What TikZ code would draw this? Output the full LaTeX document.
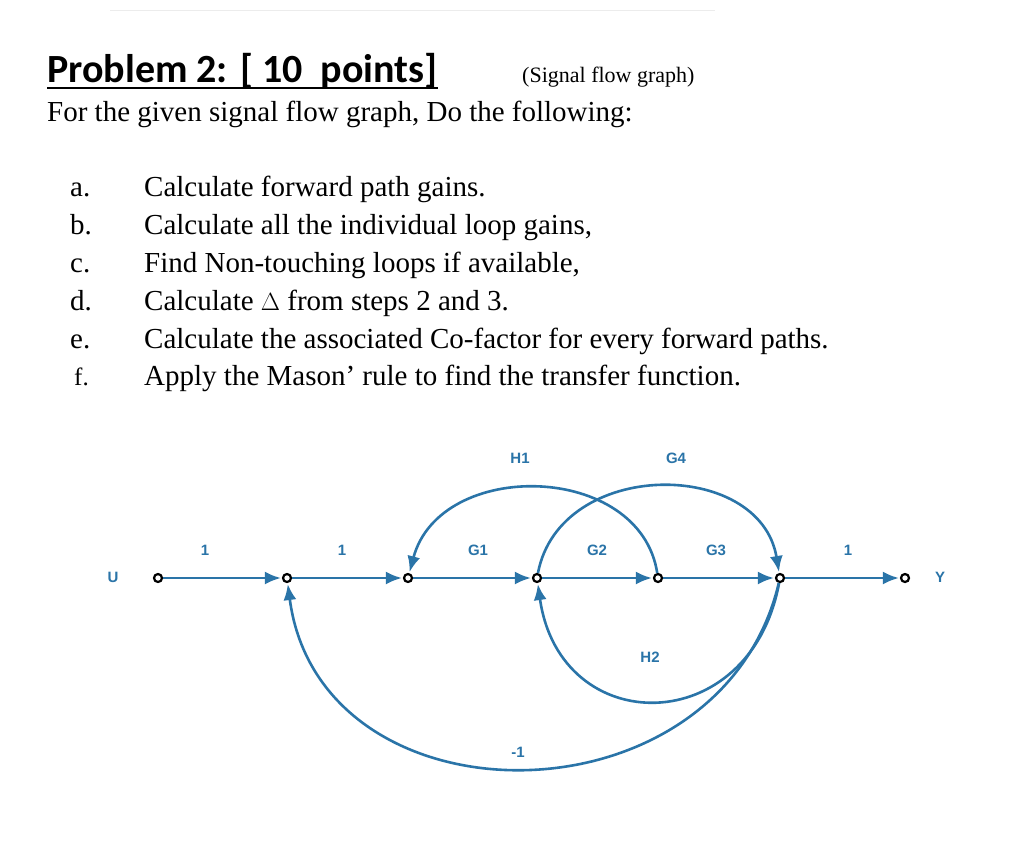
\documentclass[tikz,border=0pt]{standalone}
\usepackage{fontspec}
\setmainfont{Liberation Serif}
\newfontfamily\calfnt{Carlito}
\newfontfamily\lsans{Liberation Sans}
\usetikzlibrary{arrows.meta}
\definecolor{sfg}{HTML}{2A74A8}
\tikzset{
 pt/.style={circle,draw=black,line width=2.2pt,fill=white,inner sep=0pt,minimum size=8pt},
 br/.style={sfg,line width=2.6pt,-{Latex[length=16pt,width=13pt]},shorten >=1pt},
 lab/.style={sfg,font=\lsans\bfseries\fontsize{15}{18}\selectfont},
 body/.style={anchor=base west,font=\fontsize{29}{34}\selectfont,inner sep=0pt}
}
\begin{document}
\begin{tikzpicture}[x=1pt,y=-1pt]
\useasboundingbox (0,0) rectangle (1024,849);
\fill[white] (0,0) rectangle (1024,849);
\draw[gray!15,line width=0.5pt] (110,10) -- (715,10);
\node[anchor=base west,inner sep=0pt,font=\calfnt\bfseries\fontsize{40}{46}\selectfont] (title) at (47,82) {Problem 2: [ 10\ \ points]};
\draw[line width=1.6pt] (47,88) -- (title.east |- 0,88);
\node[anchor=base west,inner sep=0pt,font=\fontsize{22}{26}\selectfont] (sub) at (522,82) {(Signal flow graph)};
\node[body] (intro) at (47,121) {For the given signal flow graph, Do the following:};
\node[body] (la) at (70,196) {a.};
\node[body] (ta) at (144,196) {Calculate forward path gains.};
\node[body] (lb) at (70,234) {b.};
\node[body] (tb) at (144,234) {Calculate all the individual loop gains,};
\node[body] (lc) at (70,272) {c.};
\node[body] (tc) at (144,272) {Find Non-touching loops if available,};
\node[body] (ld) at (70,310) {d.};
\node[body] (td) at (144,310) {Calculate $\Delta$ from steps 2 and 3.};
\node[body] (le) at (70,348) {e.};
\node[body] (te) at (144,348) {Calculate the associated Co-factor for every forward paths.};
\node[body,font=\fontsize{25}{30}\selectfont] (fl) at (74,385) {f.};
\node[body] (ft) at (144,385) {Apply the Mason’ rule to find the transfer function.};

\node[pt] (u) at (158,578) {};
\node[pt] (n1) at (287,578) {};
\node[pt] (n2) at (408,578) {};
\node[pt] (n3) at (537,578) {};
\node[pt] (n4) at (658,578) {};
\node[pt] (n5) at (780,578) {};
\node[pt] (y) at (905,578) {};
\draw[br] (u) -- (n1);
\draw[br] (n1) -- (n2);
\draw[br] (n2) -- (n3);
\draw[br] (n3) -- (n4);
\draw[br] (n4) -- (n5);
\draw[br] (n5) -- (y);
\draw[br] (n4) .. controls (640,462) and (440,458) .. (n2);
\draw[br] (n3) .. controls (560,458) and (760,458) .. (n5);
\draw[br] (n5) .. controls (750,740) and (560,740) .. (n3);
\draw[br] (n5) .. controls (720,830) and (320,830) .. (n1);
\node[lab] (lu) at (113,577) {U};
\node[lab] (ly) at (940,577) {Y};
\node[lab] at (205,550) {1};
\node[lab] at (342,550) {1};
\node[lab] at (478,550) {G1};
\node[lab] at (597,550) {G2};
\node[lab] at (716,550) {G3};
\node[lab] at (848,550) {1};
\node[lab] at (520,458) {H1};
\node[lab] at (676,458) {G4};
\node[lab] at (650,657) {H2};
\node[lab] at (518,752) {-1};
\end{tikzpicture}
\end{document}
